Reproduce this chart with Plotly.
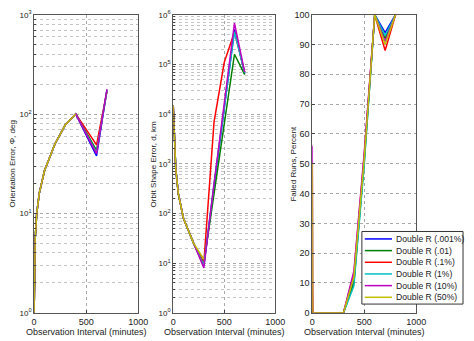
import plotly.graph_objects as go

W, H = 474, 341

names = ["Double R (.001%)", "Double R (.01)", "Double R (.1%)",
         "Double R (1%)", "Double R (10%)", "Double R (50%)"]
colors = ["#0000ff", "#008000", "#ff0000", "#00bfbf", "#bf00bf", "#bfbf00"]

# Panel 1: Orientation error (deg)
x1 = [0, 5, 10, 25, 50, 100, 200, 300, 400, 600, 700]
o_blue = [1, 3, 5.5, 10, 16, 27, 50, 78, 100, 38, 175]
o_green = [1, 3, 5.5, 10, 16, 27, 50, 78, 100, 43, 172]
o_red = [1, 3, 5.5, 10, 16, 27, 50, 78, 100, 49, 170]
o_cyan = [1, 3, 5.5, 10, 16, 27, 50, 78, 100, 41, 174]
o_mag = [1, 3, 5.5, 10, 16, 27, 50, 78, 100, 40, 178]
o_yel = [1, 3, 5.5, 10, 16, 27, 50, 78, 100, None, None]

# Panel 2: Orbit shape error (km)
x2 = [0, 25, 50, 100, 200, 300, 400, 500, 600, 700]
d_blue = [15000, 800, 250, 80, 25, 9, 350, 14000, 500000, 65000]
d_green = [15000, 800, 250, 80, 25, 10, 250, 6000, 160000, 62000]
d_red = [15000, 800, 250, 80, 25, 10, 7000, 110000, 450000, 70000]
d_cyan = [15000, 800, 250, 80, 25, 9, 400, 15000, 450000, 68000]
d_mag = [15000, 800, 250, 80, 25, 8, 400, 16000, 680000, 70000]
d_yel = [15000, 800, 250, 80, 25, 12, None, None, None, None]

# Panel 3: Failed runs (percent)
x3 = [0, 5, 50, 100, 200, 300, 400, 500, 600, 700, 800]
f_blue = [0, 0, 0, 0, 0, 0, 11, 52, 100, 94, 100]
f_green = [0, 0, 0, 0, 0, 0, 10, 51, 100, 92, 100]
f_red = [10, 0, 0, 0, 0, 0, 13, 53, 100, 88, 100]
f_cyan = [0, 0, 0, 0, 0, 0, 9, 50, 100, 93, 100]
f_mag = [56, 0, 0, 0, 0, 0, 14, 54, 100, 91, 100]
f_yel = [50, 0, 0, 0, 0, 0, 12, 52, 100, 90, 100]

x_ticks = [0, 500, 1000]
x_ticktext = ["0", "500", "1000"]
y1_ticks = [1, 10, 100, 1000]
y1_text = ["10<sup>0</sup>", "10<sup>1</sup>", "10<sup>2</sup>", "10<sup>3</sup>"]
y2_ticks = [1, 10, 100, 1000, 10000, 100000, 1000000]
y2_text = ["10<sup>%d</sup>" % i for i in range(7)]
y3_ticks = list(range(0, 101, 10))

x_title = "Observation Interval (minutes)"
y_titles = ["Orientation Error, Φ, deg", "Orbit Shape Error, d, km", "Failed Runs, Percent"]

panel1 = [o_blue, o_green, o_red, o_cyan, o_mag, o_yel]
panel2 = [d_blue, d_green, d_red, d_cyan, d_mag, d_yel]
panel3 = [f_blue, f_green, f_red, f_cyan, f_mag, f_yel]

fig = go.Figure()
for xs, panel, xa, ya in [(x1, panel1, "x", "y"), (x2, panel2, "x2", "y2"), (x3, panel3, "x3", "y3")]:
    for i in range(6):
        fig.add_trace(go.Scatter(x=xs, y=panel[i], mode="lines",
                                 line=dict(color=colors[i], width=1.5),
                                 xaxis=xa, yaxis=ya, showlegend=False, name=names[i]))

top, bot = 9, 317
ydom = [1 - bot / H, 1 - top / H]
xdoms = [[32 / W, 139 / W], [175 / W, 280 / W], [318 / W, 425 / W]]

FAM = "Liberation Sans, Arial, sans-serif"
font = dict(family=FAM, size=9, color="#222")
grid = dict(showgrid=True, gridcolor="#a8a8a8", griddash="dot", gridwidth=1)
frame = dict(showline=True, linecolor="#555", linewidth=1, mirror=True, ticks="inside",
             ticklen=3, tickcolor="#444", zeroline=False)


def minor_vals(decades):
    return [m * 10 ** d for d in range(decades) for m in range(2, 10)]


minor_style = dict(showgrid=True, gridcolor="#c4c4c4", griddash="dot", ticks="inside",
                   ticklen=2, tickcolor="#444")

layout = dict(
    width=W, height=H, margin=dict(l=0, r=0, t=0, b=0),
    paper_bgcolor="white", plot_bgcolor="white", font=font, showlegend=False,
)
for k, (ax, dom) in enumerate(zip(["xaxis", "xaxis2", "xaxis3"], xdoms)):
    layout[ax] = dict(domain=dom, range=[0, 1000], tickvals=x_ticks, ticktext=x_ticktext,
                      anchor=["y", "y2", "y3"][k], tickfont=dict(size=9),
                      title=dict(text=x_title, font=dict(size=9), standoff=1), **grid, **frame)
layout["yaxis"] = dict(domain=ydom, type="log", range=[0, 3], tickvals=y1_ticks, ticktext=y1_text,
                       anchor="x", tickfont=dict(size=8),
                       minor=dict(tickvals=minor_vals(3), **minor_style), **grid, **frame)
layout["yaxis2"] = dict(domain=ydom, type="log", range=[0, 6], tickvals=y2_ticks, ticktext=y2_text,
                        anchor="x2", tickfont=dict(size=8),
                        minor=dict(tickvals=minor_vals(6), **minor_style), **grid, **frame)
layout["yaxis3"] = dict(domain=ydom, range=[0, 100], tickvals=y3_ticks, anchor="x3",
                        tickfont=dict(size=9), **grid, **frame)

ymid = 1 - ((top + bot) / 2) / H
ann = []
for xp, t in zip([10, 155, 299], y_titles):
    ann.append(dict(x=xp / W, y=ymid, xref="paper", yref="paper", text=t, showarrow=False,
                    textangle=-90, font=dict(size=8, color="#222"), xanchor="center", yanchor="middle"))

# Hand-drawn legend box (compact, like the original)
shapes = []
lx0, lx1, ly0, ly1 = 369, 473, 233, 308
shapes.append(dict(type="rect", xref="paper", yref="paper", x0=lx0 / W, x1=lx1 / W,
                   y0=1 - ly1 / H, y1=1 - ly0 / H, line=dict(color="#333", width=1),
                   fillcolor="white", layer="above"))
row0, dy = 240.7, 12.06
for i in range(6):
    yy = 1 - (row0 + i * dy) / H
    shapes.append(dict(type="line", xref="paper", yref="paper", x0=372 / W, x1=400 / W,
                       y0=yy, y1=yy, line=dict(color=colors[i], width=1.5), layer="above"))
    ann.append(dict(x=402 / W, y=yy, xref="paper", yref="paper", text=names[i], showarrow=False,
                    xanchor="left", yanchor="middle", font=dict(size=8.6, color="#222", family=FAM)))
layout["annotations"] = ann
layout["shapes"] = shapes

fig.update_layout(**layout)
fig.write_html("out.html")
